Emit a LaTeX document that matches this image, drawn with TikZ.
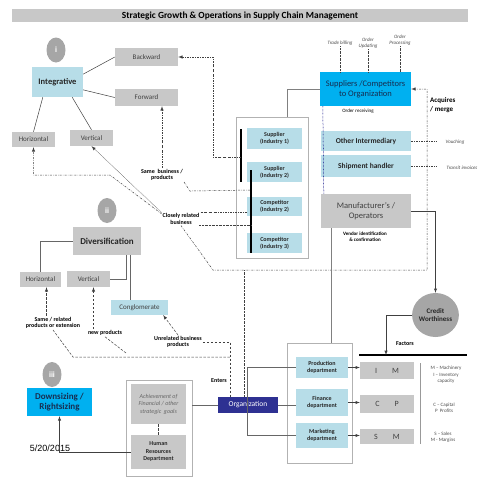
\documentclass[tikz,border=0pt]{standalone}
\usepackage{fontspec}
\setmainfont{Carlito}
\newfontfamily\datefont{Liberation Sans}
\usetikzlibrary{shapes.geometric,calc}

\definecolor{lightc}{RGB}{183,221,232}
\definecolor{boxgray}{RGB}{200,200,200}
\definecolor{circgray}{RGB}{166,166,166}
\definecolor{brightc}{RGB}{0,176,240}
\definecolor{orgblue}{RGB}{46,49,146}
\definecolor{linegray}{RGB}{64,64,64}
\definecolor{dsnavy}{RGB}{23,45,80}

\begin{document}
\begin{tikzpicture}[x=1pt, y=-1pt, >=latex,
    graybox/.style={fill=boxgray, inner sep=0pt, text=black!75, font=\fontsize{7}{8}\selectfont},
    tealbox/.style={fill=lightc, inner sep=0pt, align=center, text=black!85, font=\bfseries\fontsize{6}{7}\selectfont},
    numcirc/.style={ellipse, fill=circgray, minimum width=19pt, minimum height=25pt, inner sep=0pt, text=white, font=\bfseries\fontsize{8}{9}\selectfont},
    framebox/.style={draw=black!30, line width=0.8pt, inner sep=0pt},
    lbl/.style={align=center, inner sep=1pt, font=\bfseries\fontsize{6}{6.5}\selectfont},
    smallnote/.style={align=center, inner sep=1pt, text=black!70, font=\itshape\fontsize{5}{5.5}\selectfont},
    conn/.style={draw=linegray, line width=0.5pt},
    solidgray/.style={draw=black!50, line width=0.8pt},
    linkdd/.style={conn, dash pattern=on 2pt off 1.2pt on 0.5pt off 1.2pt},
    linkdot/.style={conn, dash pattern=on 0.6pt off 0.8pt},
    linkdash/.style={conn, dash pattern=on 2.5pt off 1.5pt}]
    \fill[white] (0,0) rectangle (480,480);
    \useasboundingbox (0,0) rectangle (480,480);

    % title
    \node[fill=boxgray, minimum width=456pt, minimum height=13pt, inner sep=0pt, font=\bfseries\fontsize{9.4}{10}\selectfont] (title) at (240,15.5) {Strategic Growth \& Operations in Supply Chain Management};

    % i - integrative
    \node[numcirc] (ci) at (56,50) {i};
    \node[fill=lightc, minimum width=51pt, minimum height=30pt, inner sep=0pt, text=black!85, font=\bfseries\fontsize{8.5}{10}\selectfont] (integ) at (57.5,82) {Integrative};
    \node[graybox, minimum width=63pt, minimum height=18pt] (backward) at (146.5,57) {Backward};
    \node[graybox, minimum width=63pt, minimum height=17pt] (forward) at (146.5,97.5) {Forward};
    \node[graybox, minimum width=43pt, minimum height=15pt] (horiz1) at (33.5,139.5) {Horizontal};
    \node[graybox, minimum width=43pt, minimum height=16pt] (vert1) at (91.5,138) {Vertical};

    % suppliers and intermediaries
    \node[fill=brightc, minimum width=91pt, minimum height=34pt, inner sep=0pt, align=center, text=dsnavy, font=\fontsize{8.5}{10}\selectfont] (supp) at (365.5,89) {Suppliers /Competitors\\to Organization};
    \node[tealbox, minimum width=90pt, minimum height=20pt, font=\bfseries\fontsize{7.5}{9}\selectfont] (inter) at (366,141) {Other Intermediary};
    \node[tealbox, minimum width=90pt, minimum height=22pt, font=\bfseries\fontsize{7.5}{9}\selectfont] (ship) at (366,166) {Shipment handler};
    \node[graybox, minimum width=90pt, minimum height=34pt, align=center, font=\fontsize{8.5}{10}\selectfont] (manuf) at (366,211) {Manufacturer's /\\Operators};
    \node[smallnote] (trade) at (340,43) {Trade billing};
    \node[smallnote] (oupd) at (368,43) {Order\\Updating};
    \node[smallnote] (oproc) at (400,40) {Order\\Processing};
    \node[lbl, font=\fontsize{5}{6}\selectfont] (orecv) at (358,111) {Order receiving};
    \node[lbl, anchor=west, align=left, font=\bfseries\fontsize{7}{8.5}\selectfont] (acq) at (429,105) {Acquires\\/ merge};
    \node[smallnote] (vouch) at (455,142) {Vouching};
    \node[smallnote] (transit) at (462,168) {Transit invoices};
    \node[lbl, font=\bfseries\fontsize{5}{6}\selectfont] (vendor) at (365,237) {Vendor identification\\\& confirmation};

    % supplier / competitor group
    \node[framebox, minimum width=72pt, minimum height=141pt] (supbox) at (272,187.5) {};
    \node[tealbox, minimum width=55pt, minimum height=21pt] (sup1) at (274.5,138.5) {Supplier\\(Industry 1)};
    \node[tealbox, minimum width=55pt, minimum height=20pt] (sup2) at (274.5,172) {Supplier\\(Industry 2)};
    \node[tealbox, minimum width=55pt, minimum height=19pt] (comp2) at (274.5,206.5) {Competitor\\(Industry 2)};
    \node[tealbox, minimum width=55pt, minimum height=20pt] (comp3) at (274.5,243) {Competitor\\(Industry 3)};
    \coordinate (bar1t) at (241,129);
    \coordinate (bar1b) at (241,182);
    \coordinate (bar1m) at (241,157);
    \coordinate (bar2t) at (251,170);
    \coordinate (bar2b) at (251,253);
    \coordinate (bar2s) at (251,190);
    \draw[line width=1.2pt] (bar1t) -- (bar1b);
    \draw[line width=1.2pt] (bar2t) -- (bar2b);

    \node[lbl] (samebiz) at (162,175) {Same\ \ business /\\products};
    \node[lbl] (closely) at (181,219) {Closely related\\business};

    % ii - diversification
    \node[numcirc] (cii) at (107,210.5) {ii};
    \node[graybox, minimum width=68pt, minimum height=28pt, text=black!85, font=\bfseries\fontsize{9}{10}\selectfont] (divers) at (107,241) {Diversification};
    \node[graybox, minimum width=41pt, minimum height=15pt] (horiz2) at (40.5,279.5) {Horizontal};
    \node[graybox, minimum width=43pt, minimum height=16pt] (vert2) at (88.5,279) {Vertical};
    \node[fill=lightc, minimum width=57pt, minimum height=15pt, inner sep=0pt, text=black!75, font=\fontsize{7}{8}\selectfont] (congl) at (139.5,307.5) {Conglomerate};
    \node[lbl] (samerel) at (53,323) {Same / related\\products or extension};
    \node[lbl] (newprod) at (105,333) {new products};
    \node[lbl] (unrel) at (178,342) {Unrelated business\\products};
    \node[lbl] (enters) at (219,381) {Enters};

    % iii - downsizing
    \node[numcirc] (ciii) at (52,374.5) {iii};
    \node[fill=brightc, minimum width=65pt, minimum height=28pt, inner sep=0pt, align=center, text=dsnavy, font=\bfseries\fontsize{9}{10.5}\selectfont] (downs) at (59.5,402) {Downsizing /\\Rightsizing};
    \node[inner sep=0pt, font=\datefont\fontsize{9}{10}\selectfont] (date) at (50,448) {5/20/2015};
    \node[framebox, minimum width=66pt, minimum height=96pt] (achbox) at (159,428) {};
    \node[graybox, minimum width=55pt, minimum height=40pt, align=center, text=black!60, font=\itshape\fontsize{6}{7.5}\selectfont] (achieve) at (158.5,404) {Achievement of\\Financial / other\\strategic\ \ goals};
    \node[graybox, minimum width=55pt, minimum height=34pt, align=center, text=black!85, font=\bfseries\fontsize{6}{7.5}\selectfont] (hr) at (158.5,452) {Human\\Resources\\Department};

    % organization and departments
    \node[fill=orgblue, minimum width=60pt, minimum height=16pt, inner sep=0pt, text=white, font=\fontsize{7.5}{9}\selectfont] (org) at (248,405) {Organization};
    \node[framebox, minimum width=65pt, minimum height=120pt] (deptbox) at (319.5,403) {};
    \node[tealbox, minimum width=52pt, minimum height=21pt] (prod) at (322,367.5) {Production\\department};
    \node[tealbox, minimum width=52pt, minimum height=27pt] (fin) at (322,402.5) {Finance\\department};
    \node[tealbox, minimum width=52pt, minimum height=25pt] (mkt) at (322,435.5) {Marketing\\department};

    % factors
    \node[numcirc, minimum width=37pt, minimum height=44pt, align=center, text=black!85, font=\bfseries\fontsize{7}{8.5}\selectfont] (credit) at (435.5,315) {Credit\\Worthiness};
    \node[lbl] (factors) at (405,344) {Factors};
    \coordinate (fbarL) at (359,355);
    \coordinate (fbarR) at (467,355);
    \coordinate (fhit) at (386,355);
    \draw[line width=1.6pt] (fbarL) -- (fbarR);
    \node[graybox, minimum width=54pt, minimum height=17pt, font=\fontsize{8}{9}\selectfont] (fim) at (387,370.5) {I\hspace{15pt}M};
    \node[graybox, minimum width=54pt, minimum height=18pt, font=\fontsize{8}{9}\selectfont] (fcp) at (387,404) {C\hspace{15pt}P};
    \node[graybox, minimum width=54pt, minimum height=15pt, font=\fontsize{8}{9}\selectfont] (fsm) at (387,436.5) {S\hspace{15pt}M};
    \draw[black!40, line width=0.8pt] (420,363) -- (420,444);
    \node[smallnote, font=\fontsize{5}{6.5}\selectfont] (legim) at (446,375) {M -- Machinery\\I -- Inventory\\capacity};
    \node[smallnote, font=\fontsize{5}{6.5}\selectfont] (legcp) at (444,408) {C -- Capital\\P\ \ Profits};
    \node[smallnote, font=\fontsize{5}{6.5}\selectfont] (legsm) at (443,437) {S -- Sales\\M - Margins};

    % integrative links
    \draw[conn] (integ.17) -- (backward.west);
    \draw[conn] (integ.-17) -- (forward.west);
    \draw[conn] (integ.226) -- (horiz1.north);
    \draw[conn] (integ.314) -- (vert1.north);
    \draw[linkdd, ->] (bar1m) -- ++(-28,0) |- (backward.east);
    \draw[linkdd, ->] (samebiz.north) -- (samebiz.north |- forward.south);
    \draw[linkdd] (samebiz.south east) -- ++(6,9) -- (bar2s);
    \draw[linkdd] (closely.18) -- (closely.18 -| comp2.west);
    \draw[linkdot] (closely.-20) -- (closely.-20 -| bar2t);
    \coordinate (hzA) at (110,175);
    \draw[linkdd, ->] (closely.165) -- (hzA) -| (horiz1.south);
    \draw[linkdot, ->] (closely.north west) -- (vert1.south);

    % acquires / merge
    \coordinate (acqA) at (213,270);
    \coordinate (acqB) at (427,270);
    \coordinate (orgtop) at ([xshift=-4pt]org.north);
    \draw[linkdd, ->] (closely.south) -- (acqA) -- (acqB) |- (supp.east);
    \draw[linkdot] (orgtop) -- (orgtop |- acqA);

    % supplier side links
    \coordinate (sbtop) at ($(supbox.north)!0.42!(supbox.north east)$);
    \draw[solidgray] (sbtop) |- (supp.west);
    \draw[linkdot, draw=blue!50!black] ([xshift=3pt]supp.south west) -- ([xshift=3pt]manuf.north west);
    \draw[linkdot] (trade.south) -- (trade.south |- supp.north);
    \draw[linkdot] (oupd.south) -- (oupd.south |- supp.north);
    \draw[linkdot] (oproc.south) -- (oproc.south |- supp.north);
    \draw[linkdd] (inter.east) -- ++(25,0);
    \draw[linkdd] (ship.east) -- ++(25,0);
    \draw[conn, ->] (manuf.east) -| (credit.north);
    \draw[conn, ->] (credit.west) -| (fhit);
    \coordinate (mfoot) at ($(manuf.south west)!0.12!(manuf.south east)$);
    \draw[solidgray] (mfoot) -- (mfoot |- deptbox.north);

    % diversification links
    \draw[solidgray, draw=black!60, line width=0.6pt] (divers.west) -| (horiz2.north);
    \coordinate (dvs1) at ([xshift=19pt]divers.south);
    \coordinate (dvs2) at ([xshift=23pt]divers.south);
    \draw[solidgray, draw=black!60, line width=0.6pt] (dvs1) |- (vert2.east);
    \draw[solidgray, draw=black!60, line width=0.6pt] (dvs2) -- (dvs2 |- congl.north);
    \coordinate (h2a) at ([xshift=6pt]horiz2.south);
    \coordinate (v2a) at ([xshift=5pt]vert2.south);
    \draw[linkdash, ->] (h2a |- samerel.north) -- (h2a);
    \draw[linkdash, ->] (v2a |- newprod.north) -- (v2a);
    \draw[linkdash, ->] (unrel.north) -- ([xshift=-5pt]congl.south east);
    \draw[linkdash] (unrel.east) -| (org.155);
    \coordinate (divA) at (73,357);
    \draw[linkdash] (samerel.south) -- (divA) -- (divA -| org.155);
    \draw[linkdash] (newprod.south) -- ++(22,17);

    % organization links
    \draw[solidgray, draw=black!60, line width=0.6pt] (org.west -| achbox.east) -- (org.west);
    \draw[linkdash] (achieve.south) -- (hr.north);
    \draw[conn, ->] (hr.west) -| (downs.south);
    \draw[solidgray, draw=black!60, line width=0.6pt] (org.east) -- (org.east -| fin.west);
    \draw[solidgray, draw=black!60, line width=0.6pt] (prod.west) -- ++(-49,0) |- (mkt.west);
    \draw[conn, ->] (prod.east) -- (prod.east -| fim.west);
    \draw[conn, ->] (fin.east) -- (fin.east -| fcp.west);
    \draw[conn, ->] (mkt.east) -- (mkt.east -| fsm.west);
\end{tikzpicture}
\end{document}
